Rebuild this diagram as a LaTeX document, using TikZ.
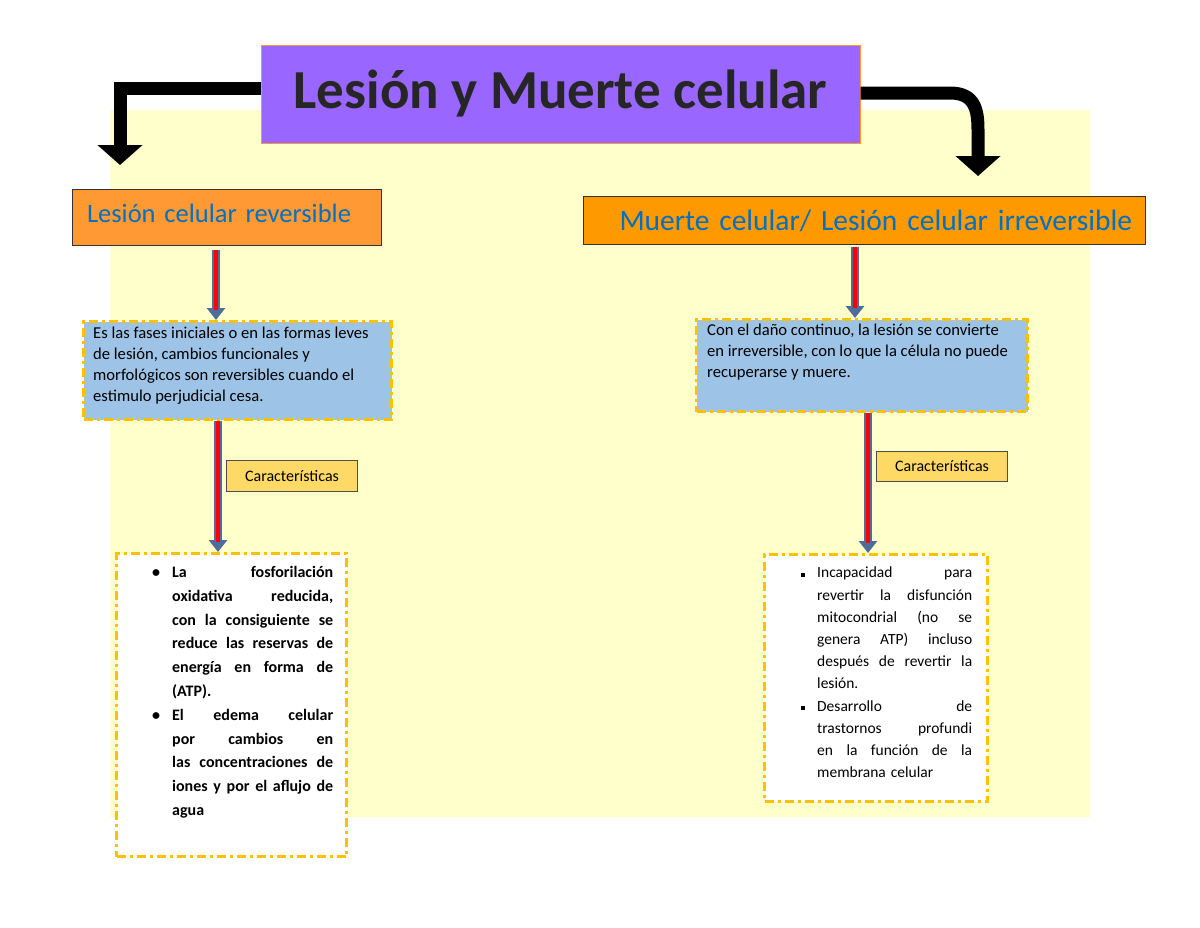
\documentclass[tikz,border=0pt]{standalone}
\usepackage{fontspec}
\setmainfont{Carlito}
\usetikzlibrary{arrows.meta}
\definecolor{bgy}{HTML}{FFFFCC}
\definecolor{purp}{HTML}{9966FF}
\definecolor{org}{HTML}{FF9933}
\definecolor{org2}{HTML}{FF9900}
\definecolor{txtb}{HTML}{0070C0}
\definecolor{lblue}{HTML}{9DC3E6}
\definecolor{gold}{HTML}{FFC000}
\definecolor{carf}{HTML}{FFD966}
\definecolor{arrb}{HTML}{4F6D9A}
\tikzset{
  obox/.style={draw=black!80, line width=1pt, text=txtb, align=left, inner sep=0pt},
  bbox/.style={fill=lblue, draw=gold, line width=3pt, dash pattern=on 9pt off 4pt on 3pt off 4pt, inner sep=0pt},
  wbox/.style={fill=white, draw=gold, line width=3pt, dash pattern=on 9pt off 4pt on 3pt off 4pt, inner sep=0pt},
  cbox/.style={fill=carf, draw=black!70, line width=1pt, font=\fontsize{16}{18}\selectfont, inner sep=0pt},
  redarr/.style={draw=arrb, line width=8pt, -{Triangle[length=12pt,width=18pt]}, postaction={draw=red, line width=4.5pt, shorten >=10pt, -}},
  bigarr/.style={draw=black, line width=13pt, -{Triangle[length=20pt,width=44pt]}}
}
\newcommand{\mybul}[2]{\leavevmode\llap{\makebox[#1][l]{\hspace*{4pt}#2}}}
\begin{document}
\begin{tikzpicture}[x=1pt,y=-1pt]
\useasboundingbox (0,0) rectangle (1200,927);
\fill[bgy] (110,110) rectangle (1090,817);
% title
\node[fill=purp, draw=org, line width=1pt, minimum width=599pt, minimum height=98pt, inner sep=0pt, font=\fontsize{55}{60}\selectfont\bfseries, text=black!85] (title) at (560.5,94) {Lesión y Muerte celular};
% left/right headers
\node[obox, fill=org, minimum width=309pt, minimum height=56pt, text width=300pt, font=\fontsize{26.5}{30}\selectfont, anchor=north west] (lrev) at (72,189) {\hspace*{10pt}\raisebox{8pt}{Lesión celular reversible}};
\node[obox, fill=org2, minimum width=562pt, minimum height=48pt, text width=550pt, font=\fontsize{29.5}{32}\selectfont, anchor=north west] (rirr) at (583,196) {\hspace*{30pt}Muerte celular/ Lesión celular irreversible};
% big arrows
\coordinate (lend) at (120,165);
\coordinate (rend) at (978,176);
\draw[bigarr] (title.west |- 0,88) -- (120,88) -- (lend);
\draw[bigarr, line join=round] (title.east |- 0,93) -- (950,93) .. controls (975,93) and (978,110) .. (978,130) -- (rend);
% blue boxes
\node[bbox, minimum width=308pt, minimum height=98pt, anchor=north west] (lb) at (82,320) {};
\node[anchor=north west, align=left, font=\fontsize{16.6}{21}\selectfont, inner sep=0pt] at (93,327) {Es las fases iniciales o en las formas leves\\de lesión, cambios funcionales y\\morfológicos son reversibles cuando el\\estimulo perjudicial cesa.};
\node[bbox, minimum width=331pt, minimum height=92pt, anchor=north west] (rb) at (695,318) {};
\node[anchor=north west, align=left, font=\fontsize{16.6}{21}\selectfont, inner sep=0pt] at (707,324) {Con el daño continuo, la lesión se convierte\\en irreversible, con lo que la célula no puede\\recuperarse y muere.};
% red arrows
\draw[redarr] (216,250) -- (lb.north -| 216,0);
\draw[redarr] (855,247) -- (rb.north -| 855,0);
% bottom boxes
\node[wbox, minimum width=230pt, minimum height=303pt, anchor=north west] (lw) at (115,552) {};
\node[wbox, minimum width=223pt, minimum height=247pt, anchor=north west] (rw) at (763,553) {};
\draw[redarr] (lb.south -| 218,0) -- (lw.north -| 218,0);
\draw[redarr] (rb.south -| 868,0) -- (rw.north -| 868,0);
% caracteristicas
\node[cbox, minimum width=131pt, minimum height=31pt, anchor=north west] (c1) at (226,460) {Características};
\node[cbox, minimum width=131pt, minimum height=30pt, anchor=north west] (c2) at (876,451) {Características};
% bottom texts
\node[anchor=north west, inner sep=0pt, font=\fontsize{16}{23.8}\selectfont\bfseries] at (148,566) {%
\parbox{185pt}{\leftskip=24pt\parindent=0pt\hyphenpenalty=10000\exhyphenpenalty=10000\spaceskip=5pt plus 40pt
\mybul{24pt}{•}La fosforilación oxidativa reducida, con la consiguiente se reduce las reservas de energía en forma de (ATP).\par
\mybul{24pt}{•}El edema celular por cambios en las concentraciones de iones y por el aflujo de agua\par}};
\node[anchor=north west, inner sep=0pt, font=\fontsize{15.5}{22.2}\selectfont] at (797,567) {%
\parbox{175pt}{\leftskip=20pt\parindent=0pt\hyphenpenalty=10000\exhyphenpenalty=10000\spaceskip=5pt plus 40pt
\mybul{20pt}{\rule[1pt]{4pt}{4pt}}Incapacidad para revertir la disfunción mitocondrial (no se genera ATP) incluso después de revertir la lesión.\par
\mybul{20pt}{\rule[1pt]{4pt}{4pt}}Desarrollo de trastornos profundi en la función de la membrana celular\par}};
\end{tikzpicture}
\end{document}
